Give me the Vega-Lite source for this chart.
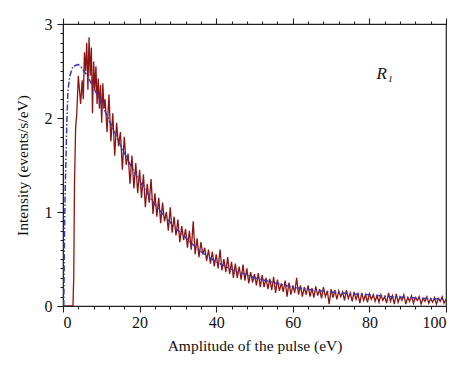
{
  "$schema": "https://vega.github.io/schema/vega-lite/v6.json",
  "width": 383,
  "height": 282,
  "autosize": "none",
  "padding": {"left": 63, "top": 24, "right": 28, "bottom": 71},
  "config": {
    "view": {"stroke": "#222", "strokeWidth": 1.2},
    "axis": {
      "labelFont": "Liberation Serif", "titleFont": "Liberation Serif",
      "labelFontSize": 16, "titleFontSize": 15.5, "titleFontWeight": "normal",
      "labelColor": "#111", "titleColor": "#111",
      "domainColor": "#222", "tickColor": "#222", "grid": false, "tickWidth": 1.1
    },
    "text": {"font": "Liberation Serif"}
  },
  "datasets": {
    "measured": [
      {"x":0,"y":0},{"x":1,"y":0},{"x":2,"y":0},{"x":2.6,"y":0},{"x":2.8,"y":0.3},{"x":3.0,"y":1.3},{"x":3.3,"y":1.9},{"x":3.6,"y":2.05},
      {"x":4.0,"y":2.45},{"x":4.3,"y":2.3},{"x":4.6,"y":2.15},{"x":5.0,"y":2.4},{"x":5.3,"y":2.2},{"x":5.6,"y":2.7},{"x":5.9,"y":2.5},
      {"x":6.2,"y":2.8},{"x":6.5,"y":2.3},{"x":6.8,"y":2.86},{"x":7.1,"y":2.45},{"x":7.4,"y":2.75},{"x":7.7,"y":2.05},{"x":8.0,"y":2.6},
      {"x":8.3,"y":2.3},{"x":8.6,"y":2.55},{"x":8.9,"y":2.15},{"x":9.2,"y":2.42},{"x":9.5,"y":2.1},{"x":9.8,"y":2.35},{"x":10.1,"y":1.95},
      {"x":10.4,"y":2.37},{"x":10.7,"y":2.1},{"x":11.0,"y":2.2},{"x":11.5,"y":1.85},{"x":12.0,"y":2.25},{"x":12.5,"y":1.75},{"x":13.0,"y":2.05},
      {"x":13.5,"y":1.6},{"x":14.0,"y":1.95},{"x":14.5,"y":1.7},{"x":15.0,"y":1.85},{"x":15.5,"y":1.45},{"x":16.0,"y":1.8},{"x":16.5,"y":1.5},
      {"x":17.0,"y":1.62},{"x":17.5,"y":1.3},{"x":18.0,"y":1.6},{"x":18.5,"y":1.25},{"x":19.0,"y":1.52},{"x":19.5,"y":1.2},{"x":20.0,"y":1.45},
      {"x":20.5,"y":1.15},{"x":21.0,"y":1.4},{"x":21.5,"y":1.05},{"x":22.0,"y":1.3},{"x":22.5,"y":1.1},{"x":23.0,"y":1.35},{"x":23.5,"y":0.98},
      {"x":24.0,"y":1.2},{"x":24.5,"y":0.95},{"x":25.0,"y":1.15},{"x":25.5,"y":0.88},{"x":26.0,"y":1.1},{"x":26.5,"y":0.9},{"x":27.0,"y":1.0},
      {"x":27.5,"y":0.8},{"x":28.0,"y":1.05},{"x":28.5,"y":0.78},{"x":29.0,"y":0.95},{"x":29.5,"y":0.75},{"x":30.0,"y":0.92},{"x":30.5,"y":0.68},
      {"x":31.0,"y":0.85},{"x":31.5,"y":0.7},{"x":32.0,"y":0.82},{"x":32.5,"y":0.62},{"x":33.0,"y":0.8},{"x":33.5,"y":0.6},{"x":34.0,"y":0.9},
      {"x":34.5,"y":0.55},{"x":35.0,"y":0.72},{"x":35.5,"y":0.52},{"x":36.0,"y":0.68},{"x":36.5,"y":0.55},{"x":37.0,"y":0.62},{"x":37.5,"y":0.48},
      {"x":38.0,"y":0.6},{"x":38.5,"y":0.45},{"x":39.0,"y":0.58},{"x":39.5,"y":0.42},{"x":40.0,"y":0.55},{"x":40.5,"y":0.4},{"x":41.0,"y":0.6},
      {"x":41.5,"y":0.38},{"x":42.0,"y":0.5},{"x":42.5,"y":0.36},{"x":43.0,"y":0.52},{"x":43.5,"y":0.34},{"x":44.0,"y":0.47},{"x":44.5,"y":0.3},
      {"x":45.0,"y":0.45},{"x":45.5,"y":0.3},{"x":46.0,"y":0.42},{"x":46.5,"y":0.28},{"x":47.0,"y":0.44},{"x":47.5,"y":0.27},{"x":48.0,"y":0.4},
      {"x":48.5,"y":0.24},{"x":49.0,"y":0.36},{"x":49.5,"y":0.25},{"x":50.0,"y":0.34},{"x":50.5,"y":0.22},{"x":51.0,"y":0.35},{"x":51.5,"y":0.2},
      {"x":52.0,"y":0.33},{"x":52.5,"y":0.2},{"x":53.0,"y":0.3},{"x":53.5,"y":0.18},{"x":54.0,"y":0.29},{"x":54.5,"y":0.17},{"x":55.0,"y":0.31},
      {"x":55.5,"y":0.14},{"x":56.0,"y":0.28},{"x":56.5,"y":0.16},{"x":57.0,"y":0.24},{"x":57.5,"y":0.15},{"x":58.0,"y":0.27},{"x":58.5,"y":0.1},
      {"x":59.0,"y":0.25},{"x":59.5,"y":0.12},{"x":60.0,"y":0.22},{"x":60.5,"y":0.14},{"x":61.0,"y":0.3},{"x":61.5,"y":0.12},{"x":62.0,"y":0.22},
      {"x":62.5,"y":0.1},{"x":63.0,"y":0.2},{"x":63.5,"y":0.12},{"x":64.0,"y":0.22},{"x":64.5,"y":0.1},{"x":65.0,"y":0.19},{"x":65.5,"y":0.09},
      {"x":66.0,"y":0.21},{"x":66.5,"y":0.11},{"x":67.0,"y":0.18},{"x":67.5,"y":0.08},{"x":68.0,"y":0.2},{"x":68.5,"y":0.1},{"x":69.0,"y":0.16},
      {"x":69.5,"y":0.02},{"x":70.0,"y":0.18},{"x":70.5,"y":0.09},{"x":71.0,"y":0.17},{"x":71.5,"y":0.07},{"x":72.0,"y":0.16},{"x":72.5,"y":0.1},
      {"x":73.0,"y":0.15},{"x":73.5,"y":0.06},{"x":74.0,"y":0.17},{"x":74.5,"y":0.08},{"x":75.0,"y":0.14},{"x":75.5,"y":0.05},{"x":76.0,"y":0.15},
      {"x":76.5,"y":0.07},{"x":77.0,"y":0.13},{"x":77.5,"y":0.03},{"x":78.0,"y":0.14},{"x":78.5,"y":0.06},{"x":79.0,"y":0.12},{"x":79.5,"y":0.04},
      {"x":80.0,"y":0.13},{"x":80.5,"y":0.07},{"x":81.0,"y":0.12},{"x":81.5,"y":0.05},{"x":82.0,"y":0.11},{"x":82.5,"y":0.04},{"x":83.0,"y":0.12},
      {"x":83.5,"y":0.06},{"x":84.0,"y":0.1},{"x":84.5,"y":0.03},{"x":85.0,"y":0.14},{"x":85.5,"y":0.05},{"x":86.0,"y":0.11},{"x":86.5,"y":0.02},
      {"x":87.0,"y":0.13},{"x":87.5,"y":0.04},{"x":88.0,"y":0.1},{"x":88.5,"y":0.06},{"x":89.0,"y":0.12},{"x":89.5,"y":0.02},{"x":90.0,"y":0.09},
      {"x":90.5,"y":0.05},{"x":91.0,"y":0.11},{"x":91.5,"y":0.03},{"x":92.0,"y":0.09},{"x":92.5,"y":0.06},{"x":93.0,"y":0.1},{"x":93.5,"y":0.02},
      {"x":94.0,"y":0.08},{"x":94.5,"y":0.05},{"x":95.0,"y":0.1},{"x":95.5,"y":0.03},{"x":96.0,"y":0.08},{"x":96.5,"y":0.04},{"x":97.0,"y":0.09},
      {"x":97.5,"y":0.02},{"x":98.0,"y":0.08},{"x":98.5,"y":0.05},{"x":99.0,"y":0.1},{"x":99.5,"y":0.03},{"x":100.0,"y":0.07}
    ],
    "fit": [
      {"x":0.2,"y":0},{"x":0.4,"y":0.8},{"x":0.6,"y":1.3},{"x":0.8,"y":1.6},{"x":1.0,"y":1.95},{"x":1.3,"y":2.3},{"x":1.8,"y":2.45},
      {"x":2.6,"y":2.55},{"x":4,"y":2.57},{"x":5,"y":2.53},{"x":6,"y":2.47},{"x":7,"y":2.4},{"x":8,"y":2.32},{"x":9,"y":2.24},{"x":10,"y":2.16},
      {"x":11,"y":2.07},{"x":12,"y":1.98},{"x":13,"y":1.89},{"x":14,"y":1.8},{"x":15,"y":1.71},{"x":16,"y":1.63},{"x":17,"y":1.55},
      {"x":18,"y":1.47},{"x":19,"y":1.4},{"x":20,"y":1.33},{"x":22,"y":1.2},{"x":24,"y":1.08},{"x":26,"y":0.98},{"x":28,"y":0.89},
      {"x":30,"y":0.8},{"x":32,"y":0.73},{"x":34,"y":0.65},{"x":36,"y":0.58},{"x":38,"y":0.52},{"x":40,"y":0.47},{"x":42,"y":0.43},
      {"x":44,"y":0.39},{"x":46,"y":0.36},{"x":48,"y":0.33},{"x":50,"y":0.3},{"x":52,"y":0.28},{"x":54,"y":0.26},{"x":56,"y":0.24},
      {"x":58,"y":0.22},{"x":60,"y":0.2},{"x":65,"y":0.17},{"x":70,"y":0.15},{"x":75,"y":0.13},{"x":80,"y":0.12},{"x":85,"y":0.1},
      {"x":90,"y":0.09},{"x":95,"y":0.08},{"x":100,"y":0.07}
    ],
    "label": [{"x": 84, "y": 2.47, "t": "R₁"}]
  },
  "layer": [
    {
      "data": {"name": "measured"},
      "mark": {"type": "line", "color": "#8E1414", "strokeWidth": 1.3, "clip": true},
      "encoding": {
        "x": {"field": "x", "type": "quantitative", "scale": {"domain": [0, 100], "nice": false},
          "axis": {"orient": "bottom", "values": [0, 20, 40, 60, 80, 100], "tickSize": 6, "labelPadding": 2,
            "title": "Amplitude of the pulse (eV)", "titlePadding": 8}},
        "y": {"field": "y", "type": "quantitative", "scale": {"domain": [0, 3], "nice": false},
          "axis": {"orient": "left", "values": [0, 1, 2, 3], "tickSize": 6, "labelPadding": 5,
            "title": "Intensity (events/s/eV)", "titlePadding": 14}}
      }
    },
    {
      "data": {"name": "fit"},
      "mark": {"type": "line", "color": "#3A3AB8", "strokeWidth": 1.5, "strokeDash": [6, 2, 1.5, 2], "clip": true},
      "encoding": {
        "x": {"field": "x", "type": "quantitative", "scale": {"domain": [0, 100], "nice": false},
          "axis": {"orient": "bottom", "values": [4,8,12,16,24,28,32,36,44,48,52,56,64,68,72,76,84,88,92,96], "tickSize": 3, "labels": false, "domain": false, "title": null}},
        "y": {"field": "y", "type": "quantitative", "scale": {"domain": [0, 3], "nice": false},
          "axis": {"orient": "left", "values": [0.1,0.2,0.3,0.4,0.5,0.6,0.7,0.8,0.9,1.1,1.2,1.3,1.4,1.5,1.6,1.7,1.8,1.9,2.1,2.2,2.3,2.4,2.5,2.6,2.7,2.8,2.9], "tickSize": 3, "labels": false, "domain": false, "title": null}}
      }
    },
    {
      "data": {"name": "label"},
      "mark": {"type": "text", "fontSize": 17, "fontStyle": "italic", "color": "#111"},
      "encoding": {
        "x": {"field": "x", "type": "quantitative", "scale": {"domain": [0, 100], "nice": false},
          "axis": {"orient": "top", "values": [0, 20, 40, 60, 80, 100], "tickSize": 6, "labels": false, "title": null}},
        "y": {"field": "y", "type": "quantitative", "scale": {"domain": [0, 3], "nice": false}, "axis": null},
        "text": {"field": "t"}
      }
    },
    {
      "data": {"name": "fit"},
      "mark": {"type": "point", "opacity": 0},
      "encoding": {
        "x": {"field": "x", "type": "quantitative", "scale": {"domain": [0, 100], "nice": false},
          "axis": {"orient": "top", "values": [4,8,12,16,24,28,32,36,44,48,52,56,64,68,72,76,84,88,92,96], "tickSize": 3, "labels": false, "domain": false, "title": null}},
        "y": {"field": "y", "type": "quantitative", "scale": {"domain": [0, 3], "nice": false}, "axis": null}
      }
    }
  ],
  "resolve": {"axis": {"x": "independent", "y": "independent"}}
}
